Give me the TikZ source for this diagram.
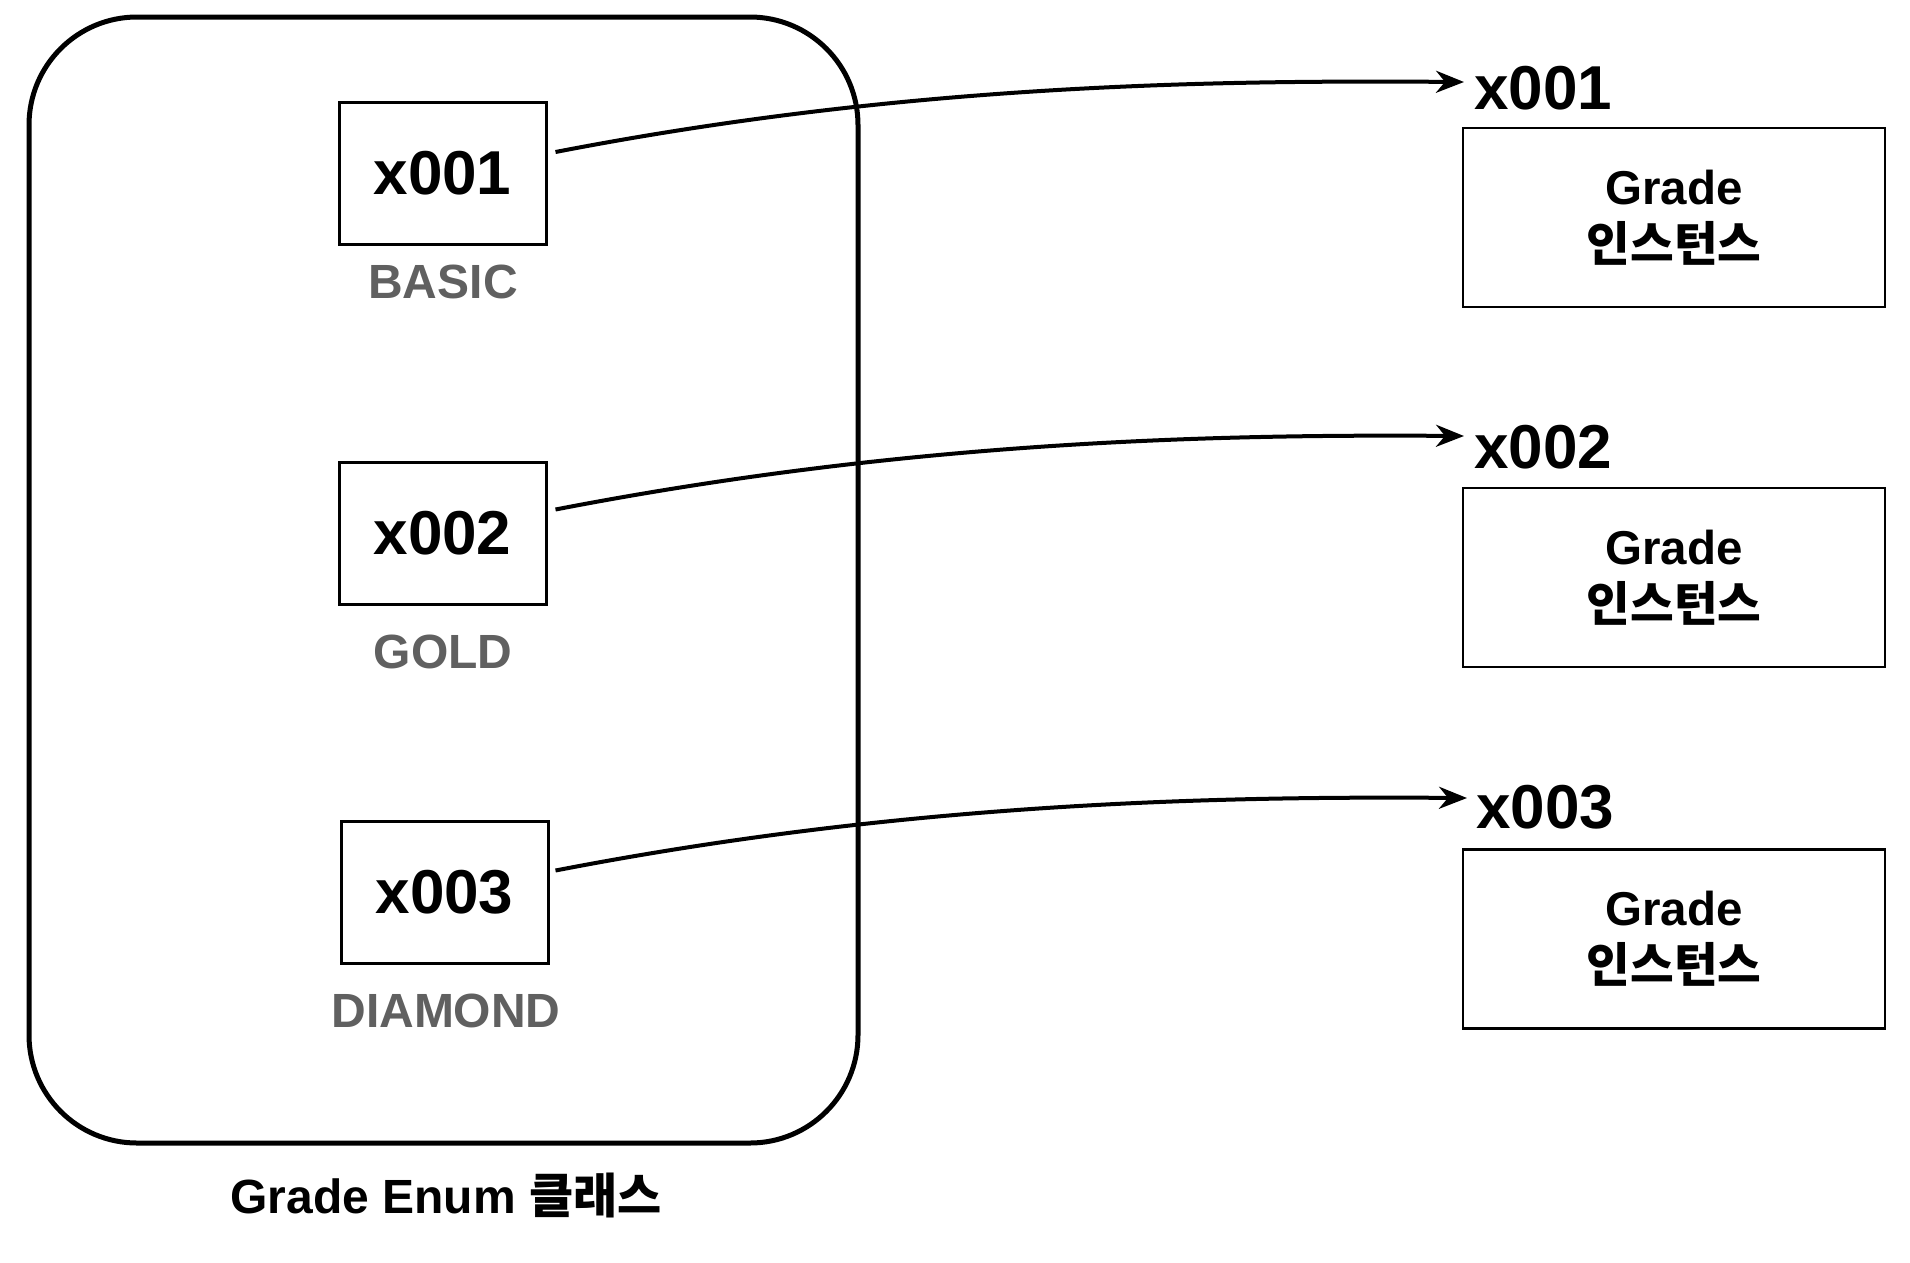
\documentclass[tikz,border=0pt]{standalone}
\usepackage{fontspec}
\setmainfont{Liberation Sans}
\newfontfamily\kr{Noto Sans CJK KR}
\usetikzlibrary{arrows.meta}
\definecolor{lblgray}{HTML}{606060}
\begin{document}
\begin{tikzpicture}[x=1pt,y=-1pt,
  ptr/.style={draw,line width=3pt,minimum width=207pt,minimum height=142pt,inner sep=0pt,
    font=\fontsize{62}{70}\selectfont\bfseries},
  enumlbl/.style={text=lblgray,inner sep=0pt,font=\fontsize{48}{54}\selectfont\bfseries},
  addr/.style={inner sep=0pt,anchor=west,font=\fontsize{62}{70}\selectfont\bfseries},
  inst/.style={draw,line width=2.2pt,minimum width=422pt,minimum height=179pt,inner sep=0pt,
    align=center,font=\fontsize{47.5}{57}\selectfont\bfseries},
  arr/.style={line width=4pt,-{Stealth[length=28pt,width=22pt,inset=9pt]}}]
\useasboundingbox (0,0) rectangle (1910,1262);
% enum class container
\node[draw,line width=5pt,rounded corners=108pt,minimum width=829pt,minimum height=1126pt,inner sep=0pt] (cls) at (443.5,580) {};
\node[font=\fontsize{48}{54}\selectfont\bfseries,inner sep=0pt] (cap) at (446,1195) {Grade Enum {\kr 클래스}};
% pointer boxes
\node[ptr] (b1) at (442.5,173) {x001};
\node[ptr] (b2) at (442.5,533.5) {x002};
\node[ptr] (b3) at (444.5,892.5) {x003};
\node[enumlbl] (n1) at (443,282) {BASIC};
\node[enumlbl] (n2) at (443,652) {GOLD};
\node[enumlbl] (n3) at (446,1011) {DIAMOND};
% instances
\node[addr] (a1) at (1474,88) {x001};
\node[addr] (a2) at (1474,447) {x002};
\node[addr] (a3) at (1476,807) {x003};
\node[inst] (i1) at (1674,217.5) {Grade\\{\kr 인스턴스}};
\node[inst] (i2) at (1674,577.5) {Grade\\{\kr 인스턴스}};
\node[inst] (i3) at (1674,939) {Grade\\{\kr 인스턴스}};
% connectors
\coordinate (s1) at ([shift={(8,-21)}]b1.east);
\coordinate (s2) at ([shift={(8,-24)}]b2.east);
\coordinate (s3) at ([shift={(6,-22)}]b3.east);
\coordinate (e1) at ([shift={(-10,-6)}]a1.west);
\coordinate (e2) at ([shift={(-10,-11)}]a2.west);
\coordinate (e3) at ([shift={(-9,-9)}]a3.west);
\draw[arr] (s1) .. controls +(346,-67) and +(-262,-2) .. (e1);
\draw[arr] (s2) .. controls +(346,-67) and +(-262,-2) .. (e2);
\draw[arr] (s3) .. controls +(346,-67) and +(-262,-2) .. (e3);
\end{tikzpicture}
\end{document}
